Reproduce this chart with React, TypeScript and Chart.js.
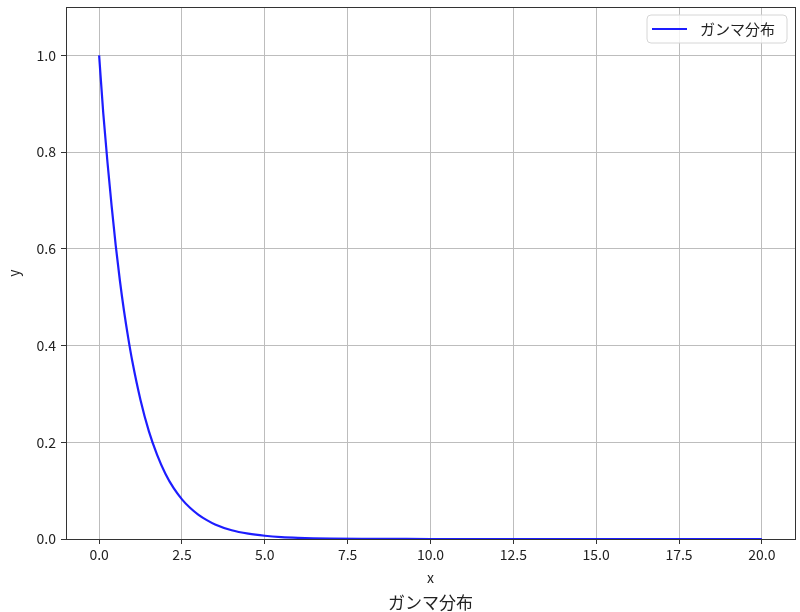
import React, { useEffect, useRef } from "react";
import { Chart, registerables } from "chart.js";

Chart.register(...registerables);

const seriesLabel = "ガンマ分布";
const titleText = "ガンマ分布";
const xAxisLabel = "x";
const yAxisLabel = "y";

const xValues = [0, 0.125, 0.25, 0.375, 0.5, 0.625, 0.75, 0.875, 1, 1.25, 1.5, 1.75, 2, 2.25, 2.5, 2.75, 3, 3.25, 3.5, 4, 4.5, 5, 5.5, 6, 7, 8, 9, 10, 12, 14, 16, 18, 20];
const yValues = [1.0, 0.88, 0.78, 0.69, 0.607, 0.535, 0.472, 0.417, 0.368, 0.287, 0.223, 0.174, 0.135, 0.105, 0.082, 0.064, 0.05, 0.039, 0.03, 0.018, 0.011, 0.0067, 0.004, 0.0025, 0.0009, 0.0003, 0.0001, 0, 0, 0, 0, 0, 0];

const xTicks = [0, 2.5, 5, 7.5, 10, 12.5, 15, 17.5, 20];
const yTicks = [0, 0.2, 0.4, 0.6, 0.8, 1.0];

const FONT = "'Noto Sans CJK JP', 'Noto Sans', sans-serif";
const LINE_COLOR = "rgba(10,10,255,0.92)";

export default function App() {
  const ref = useRef<HTMLCanvasElement | null>(null);

  useEffect(() => {
    document.body.style.margin = "0";
    const canvas = ref.current;
    if (!canvas) return;

    const framePlugin = {
      id: "frame",
      afterDraw(chart: any) {
        const { ctx, chartArea } = chart;
        const { left, right, top, bottom } = chartArea;
        ctx.save();
        ctx.strokeStyle = "#333";
        ctx.lineWidth = 1;
        ctx.strokeRect(Math.round(left) + 0.5, Math.round(top) + 0.5, Math.round(right - left), Math.round(bottom - top));

        // legend
        const bw = 140, bh = 28;
        const bx = right - 8 - bw, by = top + 8;
        const r = 4;
        ctx.beginPath();
        ctx.moveTo(bx + r, by);
        ctx.lineTo(bx + bw - r, by);
        ctx.quadraticCurveTo(bx + bw, by, bx + bw, by + r);
        ctx.lineTo(bx + bw, by + bh - r);
        ctx.quadraticCurveTo(bx + bw, by + bh, bx + bw - r, by + bh);
        ctx.lineTo(bx + r, by + bh);
        ctx.quadraticCurveTo(bx, by + bh, bx, by + bh - r);
        ctx.lineTo(bx, by + r);
        ctx.quadraticCurveTo(bx, by, bx + r, by);
        ctx.closePath();
        ctx.fillStyle = "rgba(255,255,255,0.8)";
        ctx.fill();
        ctx.strokeStyle = "#d6d6d6";
        ctx.lineWidth = 1;
        ctx.stroke();
        const ly = by + bh / 2;
        ctx.strokeStyle = LINE_COLOR;
        ctx.lineWidth = 2;
        ctx.beginPath();
        ctx.moveTo(bx + 5, ly);
        ctx.lineTo(bx + 40, ly);
        ctx.stroke();
        ctx.fillStyle = "#222";
        ctx.font = `15px ${FONT}`;
        ctx.textAlign = "left";
        ctx.textBaseline = "middle";
        ctx.fillText(seriesLabel, bx + 53, ly);

        // axis labels and title
        const cx = (left + right) / 2;
        ctx.font = `14px ${FONT}`;
        ctx.textAlign = "center";
        ctx.textBaseline = "middle";
        ctx.fillText(xAxisLabel, cx, 578);
        ctx.save();
        ctx.translate(14, (top + bottom) / 2);
        ctx.rotate(-Math.PI / 2);
        ctx.fillText(yAxisLabel, 0, 0);
        ctx.restore();
        ctx.font = `17px ${FONT}`;
        ctx.fillText(titleText, cx, 603);
        ctx.restore();
      },
    };

    const chart = new Chart(canvas, {
      type: "line",
      data: {
        datasets: [
          {
            label: seriesLabel,
            data: xValues.map((x, i) => ({ x, y: yValues[i] })),
            borderColor: LINE_COLOR,
            borderWidth: 2.2,
            pointRadius: 0,
            fill: false,
            cubicInterpolationMode: "monotone",
          },
        ],
      },
      options: {
        responsive: false,
        animation: false,
        devicePixelRatio: 1,
        layout: { padding: { top: 7, right: 5, left: 0, bottom: 0 } },
        plugins: {
          legend: { display: false },
          title: { display: false },
          tooltip: { enabled: false },
        },
        scales: {
          x: {
            type: "linear",
            min: -1,
            max: 21,
            afterBuildTicks: (scale: any) => {
              scale.ticks = xTicks.map((v) => ({ value: v }));
            },
            afterFit: (scale: any) => {
              scale.height = 73;
              scale.paddingLeft = 0;
              scale.paddingRight = 0;
            },
            ticks: {
              callback: (v: any) => Number(v).toFixed(1),
              color: "#222",
              font: { family: FONT, size: 14 },
              padding: 2,
              maxRotation: 0,
              autoSkip: false,
            },
            grid: { color: "#bdbdbd", lineWidth: 1, tickLength: 5, tickColor: "#333" },
            border: { display: true, color: "#333", width: 1 },
          },
          y: {
            type: "linear",
            min: 0,
            max: 1.1,
            afterBuildTicks: (scale: any) => {
              scale.ticks = yTicks.map((v) => ({ value: v }));
            },
            afterFit: (scale: any) => {
              scale.width = 66;
              scale.paddingTop = 0;
              scale.paddingBottom = 0;
            },
            ticks: {
              callback: (v: any) => Number(v).toFixed(1),
              color: "#222",
              font: { family: FONT, size: 14 },
              padding: 5,
              autoSkip: false,
            },
            grid: { color: "#bdbdbd", lineWidth: 1, tickLength: 5, tickColor: "#333" },
            border: { display: true, color: "#333", width: 1 },
          },
        },
      },
      plugins: [framePlugin],
    } as any);

    return () => chart.destroy();
  }, []);

  return (
    <div style={{ position: "absolute", left: 0, top: 0, width: 800, height: 612, background: "#fff" }}>
      <canvas ref={ref} width={800} height={612} style={{ display: "block" }} />
    </div>
  );
}
